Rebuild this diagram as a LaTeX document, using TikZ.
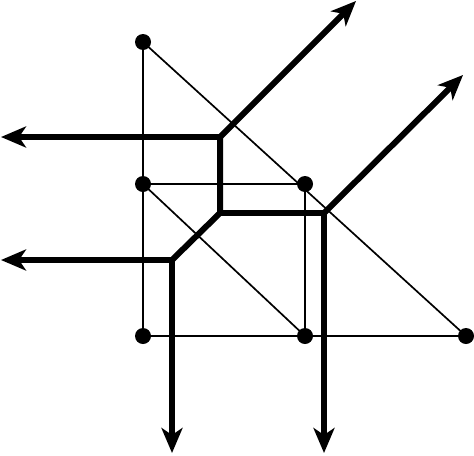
\documentclass[tikz,border=0pt]{standalone}
\usepackage{tikz}
\usetikzlibrary{arrows.meta}
\tikzstyle{pt} = [circle, fill=black, inner sep=0pt, minimum size=8pt]
\tikzstyle{thin} = [line width=0.85pt]
\tikzstyle{trop} = [line width=3pt]
\tikzstyle{arrow} = [trop, -{Stealth[length=12.5pt, width=10.5pt, inset=3.5pt]}]

\begin{document}
\begin{tikzpicture}[x=0.5pt, y=-0.5pt]
        \useasboundingbox (0,0) rectangle (474,455);
        % lattice points
        \node[pt](p00) at (143,336){};
        \node[pt](p10) at (305,336){};
        \node[pt](p20) at (466,336){};
        \node[pt](p01) at (143,184){};
        \node[pt](p11) at (305,184){};
        \node[pt](p02) at (143,42){};

        % subdivision
        \draw [thin] (p02.center) -- (p00.center) -- (p20.center) -- (p02.center);
        \draw [thin] (p01.center) -- (p11.center) -- (p10.center);
        \draw [thin] (p01.center) -- (p10.center);

        % tropical curve
        \coordinate (a) at (220,137);
        \coordinate (b) at (220,213);
        \coordinate (c) at (172,260);
        \coordinate (d) at (324,213);
        \coordinate (aup) at (356,1);
        \coordinate (aleft) at (1,137);
        \coordinate (cleft) at (1,260);
        \coordinate (cdown) at (172,453);
        \coordinate (dup) at (463,75);
        \coordinate (ddown) at (324,453);

        \draw [trop, line join=miter] (a) -- (b) -- (c);
        \draw [trop] (b) -- (d);
        \draw [arrow] (a) -- (aup);
        \draw [arrow] (a) -- (aleft);
        \draw [arrow] (c) -- (cleft);
        \draw [arrow] (c) -- (cdown);
        \draw [arrow] (d) -- (dup);
        \draw [arrow] (d) -- (ddown);
\end{tikzpicture}
\end{document}
